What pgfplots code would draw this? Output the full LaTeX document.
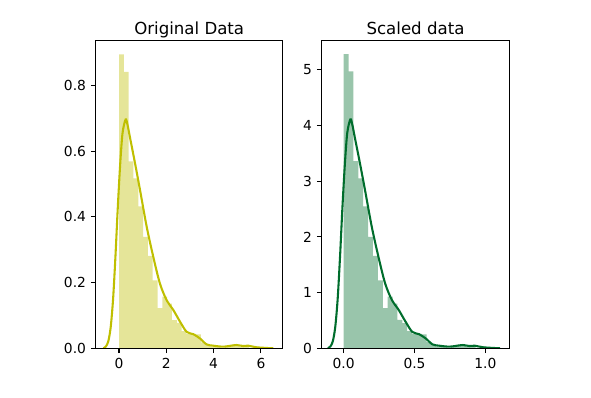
\documentclass[border=0pt]{standalone}
\usepackage{pgfplots}
\pgfplotsset{compat=1.18}
\usepackage{fontspec}
\setmainfont{DejaVu Sans}
\definecolor{ybarc}{rgb}{0.9,0.9,0.6}
\definecolor{ylinec}{rgb}{0.75,0.75,0}
\definecolor{glinec}{HTML}{006D2C}
\definecolor{gbarc}{rgb}{0.6,0.771,0.669}
\pgfplotsset{
  mystyle/.style={
    scale only axis, anchor=south west,
    axis line style={line width=0.8pt},
    tick align=outside, xtick pos=bottom, ytick pos=left,
    major tick length=3.5pt,
    every tick/.style={black, line width=0.8pt},
    tick label style={font=\fontsize{10}{12}\selectfont},
    title style={font=\fontsize{12}{14}\selectfont, at={(0.5,1)}, anchor=base, yshift=-1.5pt},
    /pgf/number format/assume math mode=true,
    axis on top,
  }
}
\pgfplotstableread{
x y
0.0000 0.894
0.2037 0.841
0.4073 0.569
0.6110 0.517
0.8146 0.432
1.0183 0.339
1.2219 0.281
1.4256 0.207
1.6292 0.122
1.8329 0.157
2.0366 0.136
2.2402 0.086
2.4439 0.077
2.6475 0.052
2.8512 0.044
3.0548 0.044
3.2585 0.042
3.4621 0.018
3.6658 0.010
3.8694 0.005
4.0731 0.005
4.2768 0.000
4.4804 0.005
4.6841 0.010
4.8877 0.010
5.0914 0.005
5.2950 0.008
5.4987 0.000
5.7023 0.005
5.9060 0.005
}\historig
\pgfplotstableread{
x y
-0.66 0.000
-0.55 0.006
-0.45 0.022
-0.35 0.065
-0.25 0.150
-0.15 0.280
-0.05 0.430
0.05 0.560
0.15 0.655
0.28 0.696
0.36 0.680
0.46 0.643
0.68 0.562
0.89 0.481
1.17 0.370
1.45 0.278
1.73 0.197
2.01 0.147
2.30 0.116
2.58 0.081
2.86 0.050
3.14 0.043
3.42 0.030
3.70 0.012
3.98 0.008
4.41 0.005
4.83 0.009
4.97 0.010
5.25 0.007
5.46 0.008
5.82 0.003
6.52 0.000
}\kdeorig
\pgfplotstableread{
x y
0.00000 5.28
0.03448 4.97
0.06897 3.36
0.10345 3.05
0.13793 2.55
0.17241 2.00
0.20690 1.66
0.24138 1.22
0.27586 0.72
0.31034 0.93
0.34483 0.80
0.37931 0.51
0.41379 0.45
0.44828 0.31
0.48276 0.26
0.51724 0.26
0.55172 0.25
0.58621 0.11
0.62069 0.06
0.65517 0.03
0.68966 0.03
0.72414 0.00
0.75862 0.03
0.79310 0.06
0.82759 0.06
0.86207 0.03
0.89655 0.05
0.93103 0.00
0.96552 0.03
1.00000 0.03
}\histscaled
\pgfplotstableread{
x y
-0.1118 0.000
-0.0931 0.035
-0.0762 0.130
-0.0593 0.384
-0.0423 0.886
-0.0254 1.654
-0.0085 2.540
0.0085 3.307
0.0254 3.868
0.0474 4.111
0.0610 4.016
0.0779 3.797
0.1151 3.319
0.1507 2.841
0.1981 2.185
0.2455 1.642
0.2929 1.163
0.3403 0.868
0.3894 0.685
0.4368 0.478
0.4843 0.295
0.5317 0.254
0.5791 0.177
0.6265 0.071
0.6739 0.047
0.7467 0.030
0.8178 0.053
0.8415 0.059
0.8889 0.041
0.9245 0.047
0.9854 0.018
1.1040 0.000
}\kdescaled
\begin{document}
\begin{tikzpicture}
\useasboundingbox (0,0) rectangle (5.91in,3.97in);
\begin{axis}[mystyle, at={(0.957in,0.487in)}, width=1.87in, height=3.08in,
  xmin=-0.985, xmax=6.92, ymin=0, ymax=0.937,
  xtick={0,2,4,6}, ytick={0,0.2,0.4,0.6,0.8},
  yticklabel style={/pgf/number format/.cd, fixed, fixed zerofill, precision=1},
  title={Original Data}]
\addplot[ybar interval, fill=ybarc, draw=none] table[x=x,y=y] {\historig};
\addplot[ylinec, line width=1.5pt, smooth, mark=none] table[x=x,y=y] {\kdeorig};
\end{axis}
\begin{axis}[mystyle, at={(3.217in,0.487in)}, width=1.876in, height=3.08in,
  xmin=-0.155, xmax=1.169, ymin=0, ymax=5.53,
  xtick={0,0.5,1}, ytick={0,1,2,3,4,5},
  xticklabel style={/pgf/number format/.cd, fixed, fixed zerofill, precision=1},
  title={Scaled data}]
\addplot[ybar interval, fill=gbarc, draw=none] table[x=x,y=y] {\histscaled};
\addplot[glinec, line width=1.5pt, smooth, mark=none] table[x=x,y=y] {\kdescaled};
\end{axis}
\end{tikzpicture}
\end{document}
